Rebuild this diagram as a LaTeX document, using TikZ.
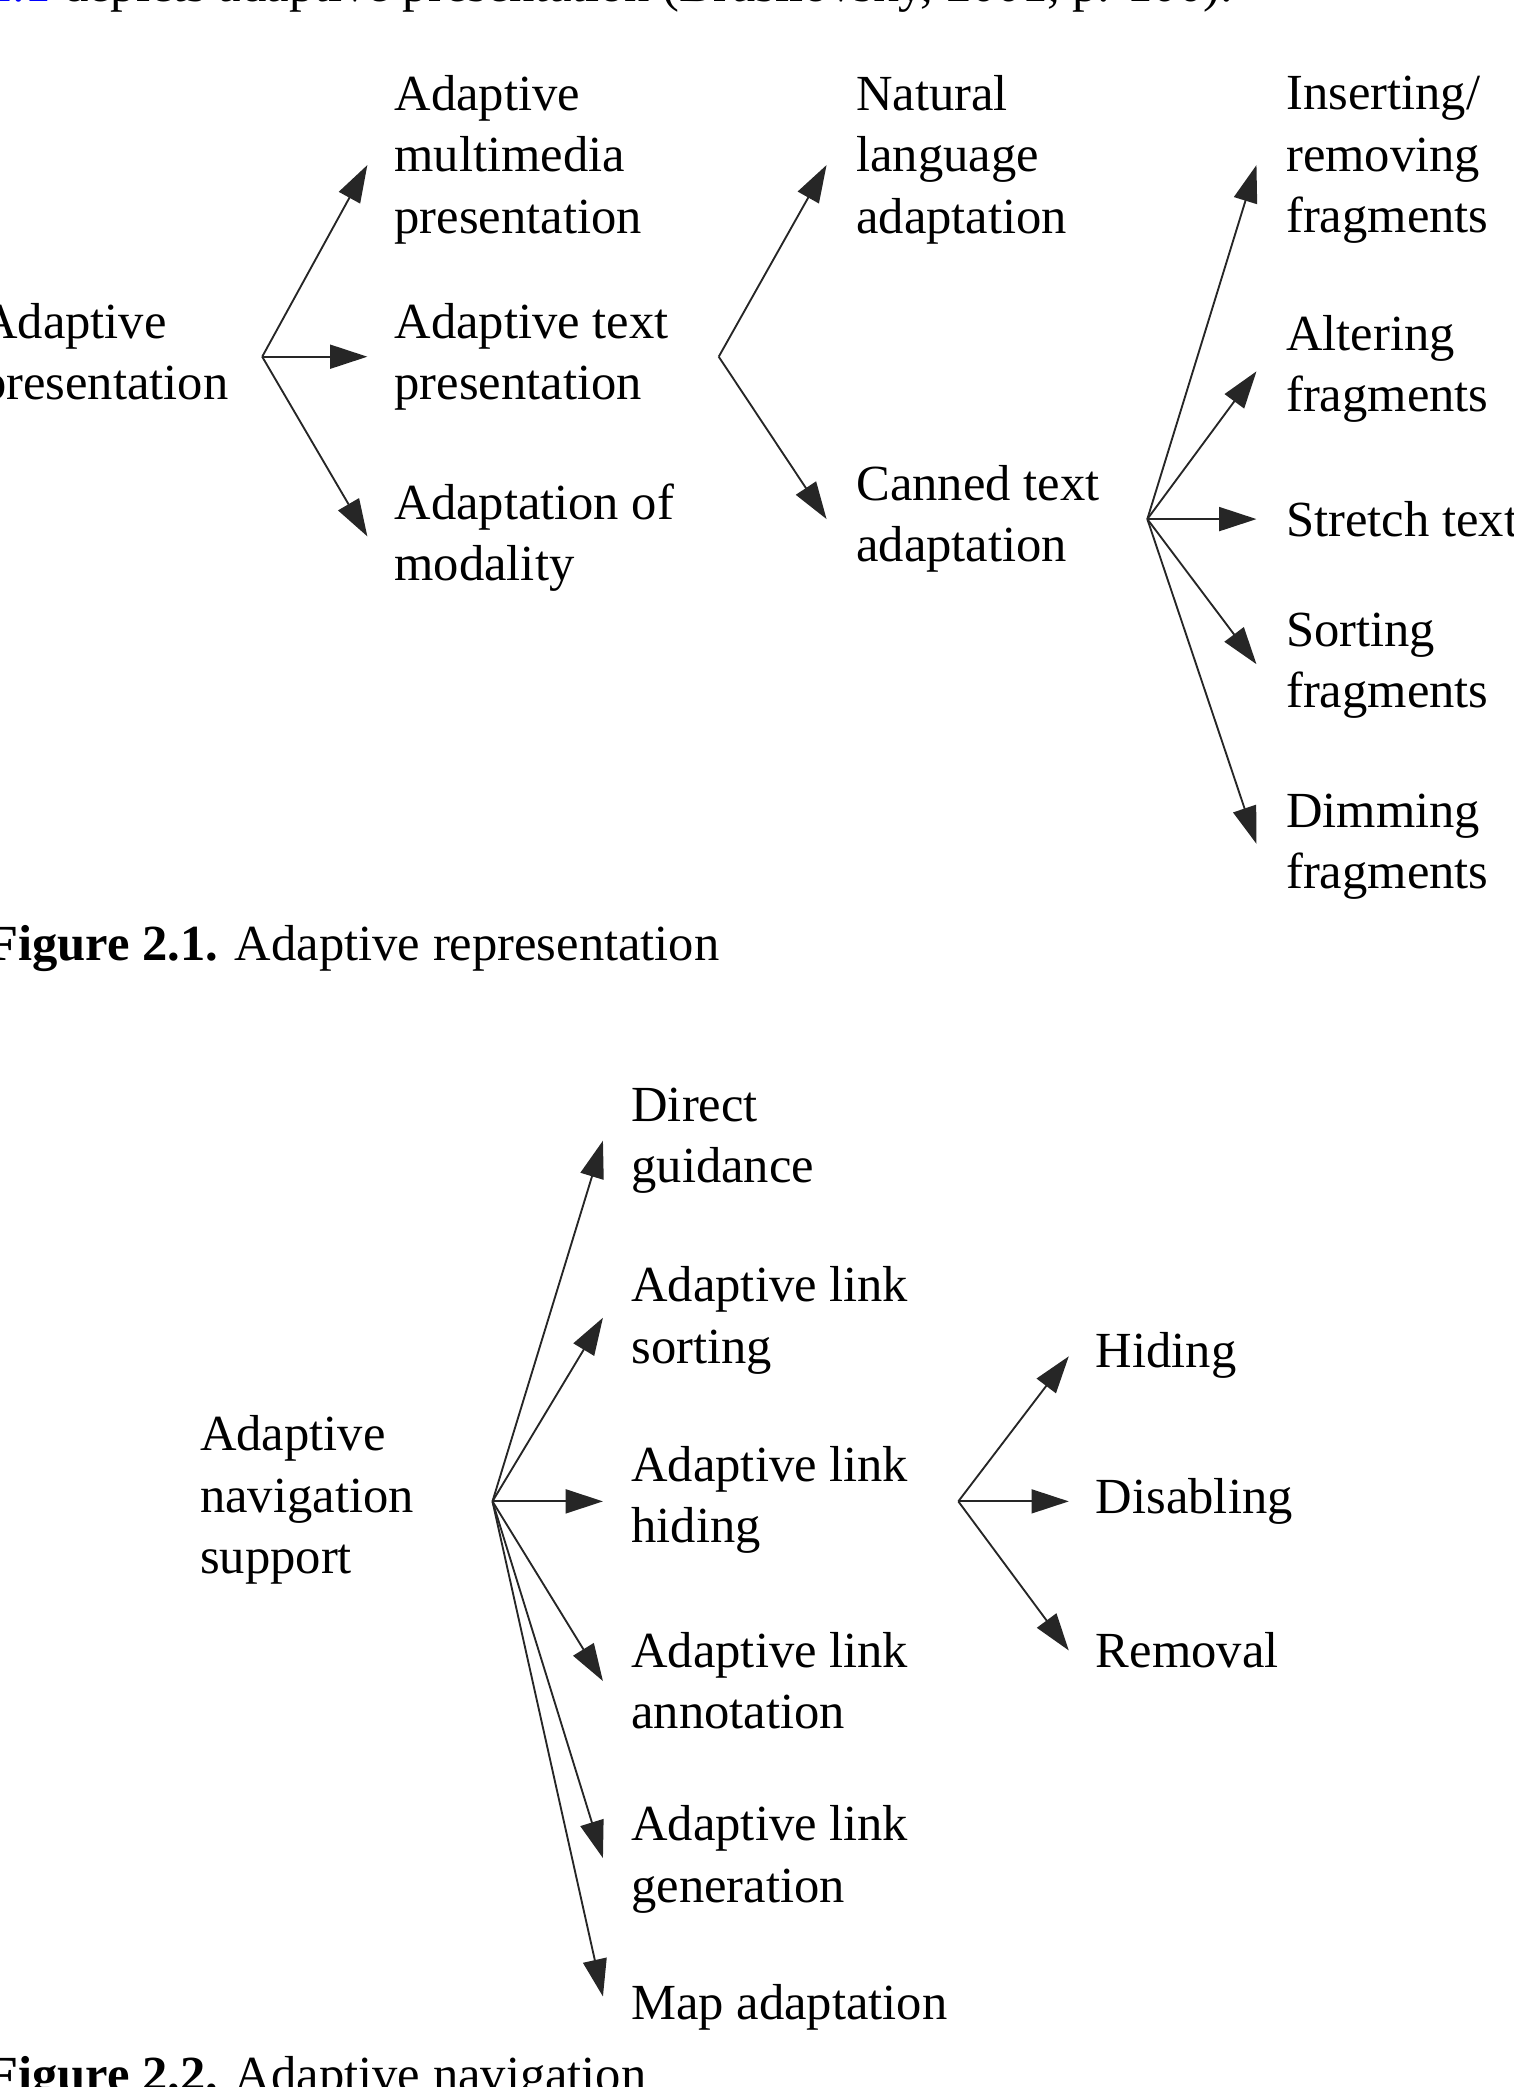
\documentclass[tikz,border=0pt]{standalone}
\usepackage{fontspec}
\setmainfont{Liberation Serif}
\usetikzlibrary{arrows.meta}
\begin{document}
\begin{tikzpicture}[x=0.5pt,y=-0.5pt,
  lbl/.style={anchor=west,align=left,inner sep=0pt,font=\fontsize{19pt}{23pt}\selectfont},
  arr/.style={draw=black!85,line width=0.7pt,-{Triangle[length=14pt,width=9pt]}}]
\useasboundingbox (0,0) rectangle (1137,1568);
\clip (0,0) rectangle (1137,1568);
\node[lbl] (top) at (-10,-8) {\textcolor{blue}{2.1} depicts adaptive presentation (Brusilovsky, 2001, p. 100).};
% Figure 2.1
\node[lbl,anchor=east] (ap) at (172,268) {Adaptive\\presentation};
\coordinate (b1) at (197,268);
\coordinate (t1) at (276,124); \coordinate (t2) at (276,268); \coordinate (t3) at (276,403);
\node[lbl] (amp) at (296,120) {Adaptive\\multimedia\\presentation};
\node[lbl] (atp) at (296,268) {Adaptive text\\presentation};
\node[lbl] (aom) at (296,404) {Adaptation of\\modality};
\draw (ap.east)++(25,0) coordinate (apx);
\draw[arr] (b1) -- (t1); \draw[arr] (b1) -- (t2); \draw[arr] (b1) -- (t3);
\coordinate (b2) at (540,268);
\coordinate (t4) at (621,124); \coordinate (t5) at (621,390);
\node[lbl] (nla) at (643,120) {Natural\\language\\adaptation};
\node[lbl] (cta) at (643,390) {Canned text\\adaptation};
\draw[arr] (b2) -- (t4); \draw[arr] (b2) -- (t5);
\coordinate (b3) at (862,390);
\coordinate (u1) at (944,124); \coordinate (u2) at (944,279); \coordinate (u3) at (944,390);
\coordinate (u4) at (944,499); \coordinate (u5) at (944,634);
\node[lbl] (irf) at (966,120) {Inserting/\\removing\\fragments};
\node[lbl] (alf) at (966,277) {Altering\\fragments};
\node[lbl] (stt) at (966,390) {Stretch text};
\node[lbl] (sof) at (966,500) {Sorting\\fragments};
\node[lbl] (dif) at (966,636) {Dimming\\fragments};
\foreach \u in {u1,u2,u3,u4,u5} \draw[arr] (b3) -- (\u);
\node[lbl] (cap1) at (-10,713) {\textbf{Figure 2.1.} Adaptive representation};
% Figure 2.2
\node[lbl] (ans) at (150,1127) {Adaptive\\navigation\\support};
\coordinate (c1) at (370,1128);
\coordinate (v1) at (453,857); \coordinate (v2) at (453,990); \coordinate (v3) at (453,1128);
\coordinate (v4) at (453,1263); \coordinate (v5) at (453,1396); \coordinate (v6) at (453,1500);
\node[lbl] (dg) at (474,857) {Direct\\guidance};
\node[lbl] (als) at (474,992) {Adaptive link\\sorting};
\node[lbl] (alh) at (474,1127) {Adaptive link\\hiding};
\node[lbl] (ala) at (474,1263) {Adaptive link\\annotation};
\node[lbl] (alg) at (474,1397) {Adaptive link\\generation};
\node[lbl] (ma) at (474,1508) {Map adaptation};
\foreach \v in {v1,v2,v3,v4,v5,v6} \draw[arr] (c1) -- (\v);
\coordinate (c2) at (720,1128);
\coordinate (w1) at (803,1019); \coordinate (w2) at (803,1128); \coordinate (w3) at (803,1240);
\node[lbl] (hid) at (823,1018) {Hiding};
\node[lbl] (dis) at (823,1128) {Disabling};
\node[lbl] (rem) at (823,1240) {Removal};
\foreach \w in {w1,w2,w3} \draw[arr] (c2) -- (\w);
\node[lbl] (cap2) at (-10,1562) {\textbf{Figure 2.2.} Adaptive navigation};
\end{tikzpicture}
\end{document}
